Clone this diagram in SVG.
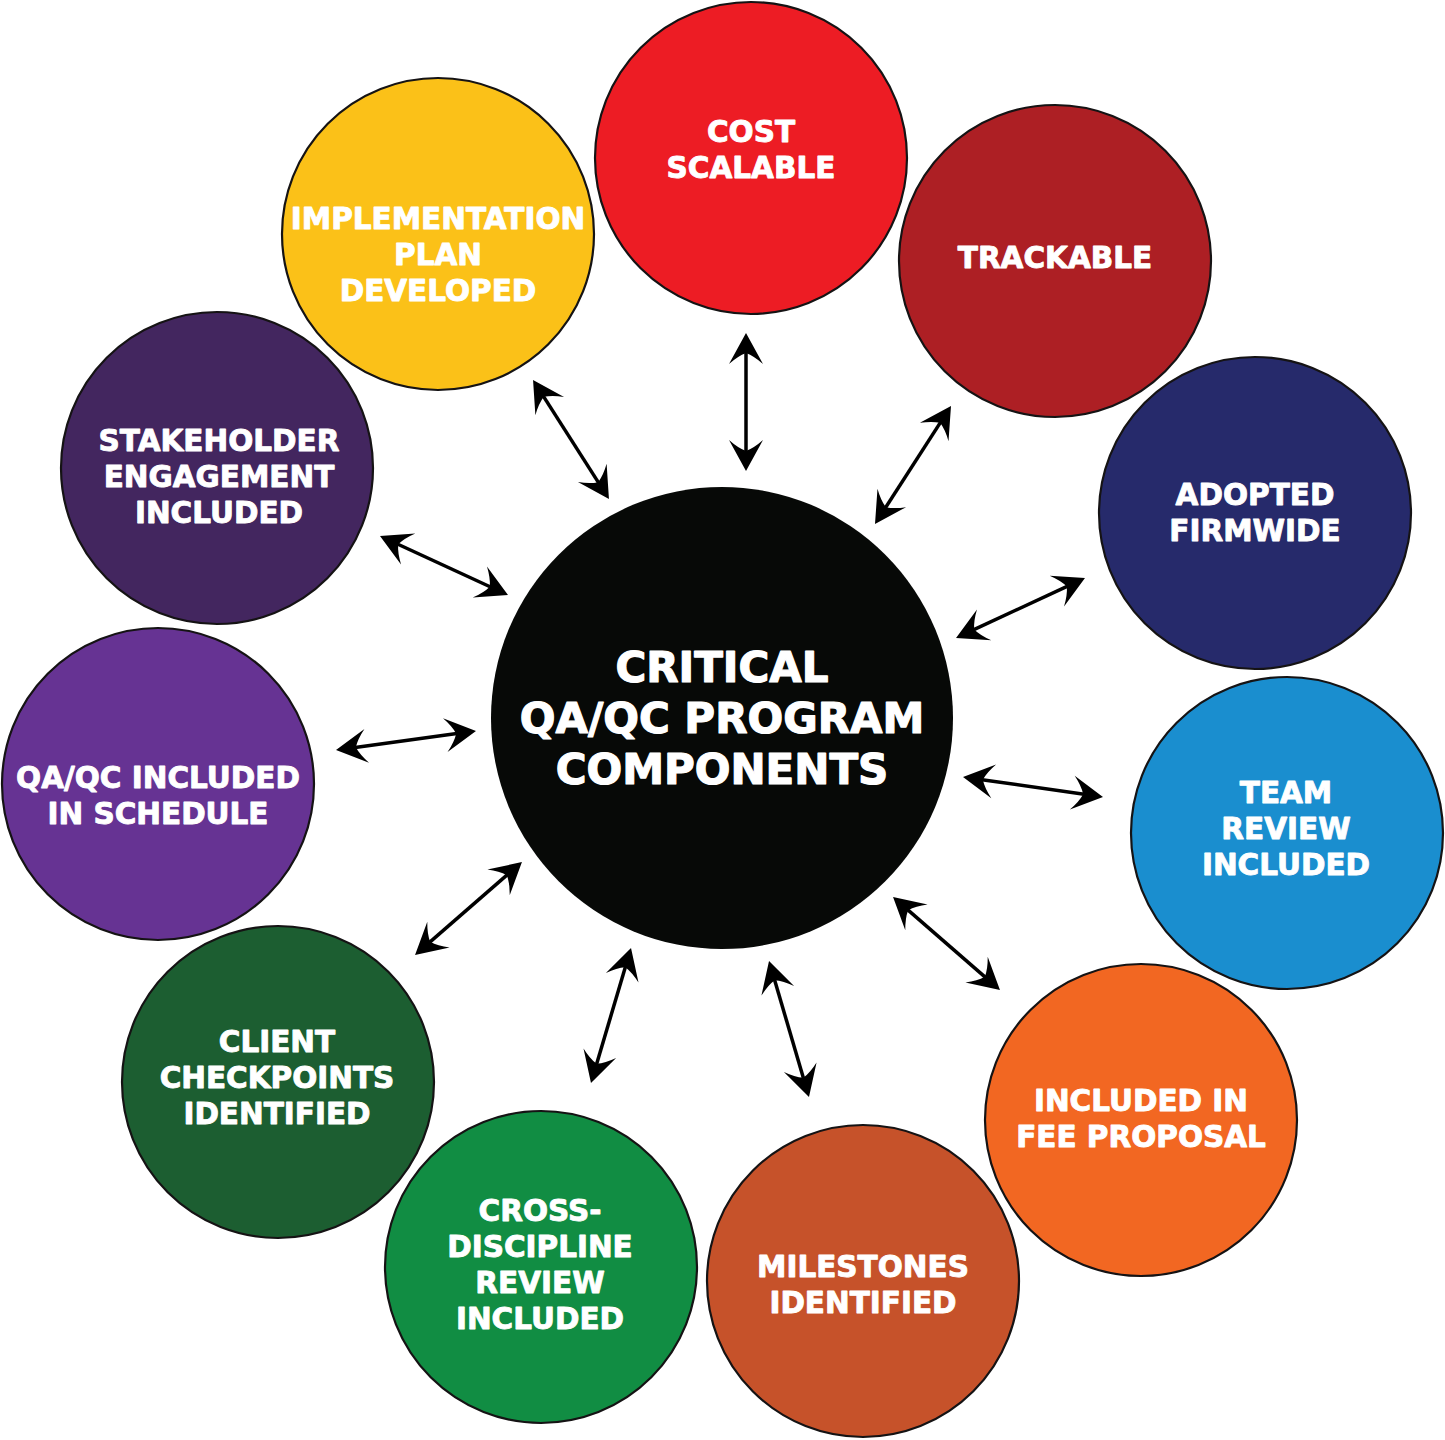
<svg xmlns="http://www.w3.org/2000/svg" width="1445" height="1440" viewBox="0 0 1445 1440">
<style>
.node{stroke:#151314;stroke-width:2.2}
.lbl{font-family:"DejaVu Sans","Liberation Sans",Arial,sans-serif;font-weight:bold;font-size:29.5px;fill:#ffffff;stroke:#ffffff;stroke-width:0.9;stroke-linejoin:round;text-anchor:middle}
.big{font-size:42px;stroke-width:1.2}
.conn{stroke:#000;stroke-width:3.5;fill:none;marker-start:url(#ah);marker-end:url(#ah)}
</style>
<defs>
<marker id="ah" markerUnits="userSpaceOnUse" markerWidth="40" markerHeight="40" viewBox="0 -20 40 40" refX="20" refY="0" orient="auto-start-reverse">
<path d="M32,0 L1,-17 Q9,-8 12,0 Q9,8 1,17 Z" fill="#000"/>
</marker>
</defs>
<rect width="1445" height="1440" fill="#ffffff"/>
<g id="connectors">
<line class="conn" x1="746" y1="345" x2="746" y2="459"/>
<line class="conn" x1="944.5" y1="416.1" x2="881.5" y2="513.9"/>
<line class="conn" x1="539.5" y1="390.1" x2="602.5" y2="488.9"/>
<line class="conn" x1="1074.1" y1="583.1" x2="966.9" y2="632.9"/>
<line class="conn" x1="974.9" y1="778.7" x2="1091.1" y2="795.3"/>
<line class="conn" x1="902.1" y1="904.9" x2="990.9" y2="982.1"/>
<line class="conn" x1="772.4" y1="972.5" x2="805.6" y2="1085.5"/>
<line class="conn" x1="627.6" y1="959.5" x2="594.4" y2="1071.5"/>
<line class="conn" x1="512.9" y1="869.9" x2="424.1" y2="947.1"/>
<line class="conn" x1="464.1" y1="732.6" x2="347.9" y2="748.4"/>
<line class="conn" x1="390.9" y1="541" x2="497.1" y2="590"/>
</g>
<g id="center">
<circle cx="722" cy="718" r="231" fill="#070907"/>
<text class="lbl big" x="722" y="682">CRITICAL</text>
<text class="lbl big" x="722" y="733">QA/QC PROGRAM</text>
<text class="lbl big" x="722" y="784">COMPONENTS</text>
</g>
<g id="cost-scalable">
<circle class="node" cx="751" cy="158" r="156" fill="#ed1c24"/>
<text class="lbl" x="751" y="142">COST</text>
<text class="lbl" x="751" y="178">SCALABLE</text>
</g>
<g id="trackable">
<circle class="node" cx="1055" cy="261" r="156" fill="#ad1f24"/>
<text class="lbl" x="1055" y="268">TRACKABLE</text>
</g>
<g id="adopted-firmwide">
<circle class="node" cx="1255" cy="513" r="156" fill="#262a6b"/>
<text class="lbl" x="1255" y="505">ADOPTED</text>
<text class="lbl" x="1255" y="541">FIRMWIDE</text>
</g>
<g id="team-review">
<circle class="node" cx="1287" cy="833" r="156" fill="#1a8ecf"/>
<text class="lbl" x="1286" y="803">TEAM</text>
<text class="lbl" x="1286" y="839">REVIEW</text>
<text class="lbl" x="1286" y="875">INCLUDED</text>
</g>
<g id="fee-proposal">
<circle class="node" cx="1141" cy="1120" r="156" fill="#f26722"/>
<text class="lbl" x="1141" y="1111">INCLUDED IN</text>
<text class="lbl" x="1141" y="1147">FEE PROPOSAL</text>
</g>
<g id="milestones">
<circle class="node" cx="863" cy="1281" r="156" fill="#c6522a"/>
<text class="lbl" x="863" y="1277">MILESTONES</text>
<text class="lbl" x="863" y="1313">IDENTIFIED</text>
</g>
<g id="cross-discipline">
<circle class="node" cx="541" cy="1267" r="156" fill="#118d43"/>
<text class="lbl" x="540" y="1221">CROSS-</text>
<text class="lbl" x="540" y="1257">DISCIPLINE</text>
<text class="lbl" x="540" y="1293">REVIEW</text>
<text class="lbl" x="540" y="1329">INCLUDED</text>
</g>
<g id="client-checkpoints">
<circle class="node" cx="278" cy="1082" r="156" fill="#1c5e31"/>
<text class="lbl" x="277" y="1052">CLIENT</text>
<text class="lbl" x="277" y="1088">CHECKPOINTS</text>
<text class="lbl" x="277" y="1124">IDENTIFIED</text>
</g>
<g id="qaqc-schedule">
<circle class="node" cx="158" cy="784" r="156" fill="#663393"/>
<text class="lbl" x="158" y="788">QA/QC INCLUDED</text>
<text class="lbl" x="158" y="824">IN SCHEDULE</text>
</g>
<g id="stakeholder">
<circle class="node" cx="217" cy="468" r="156" fill="#43265f"/>
<text class="lbl" x="219" y="451">STAKEHOLDER</text>
<text class="lbl" x="219" y="487">ENGAGEMENT</text>
<text class="lbl" x="219" y="523">INCLUDED</text>
</g>
<g id="implementation">
<circle class="node" cx="438" cy="234" r="156" fill="#fbc118"/>
<text class="lbl" x="438" y="229">IMPLEMENTATION</text>
<text class="lbl" x="438" y="265">PLAN</text>
<text class="lbl" x="438" y="301">DEVELOPED</text>
</g>
</svg>
